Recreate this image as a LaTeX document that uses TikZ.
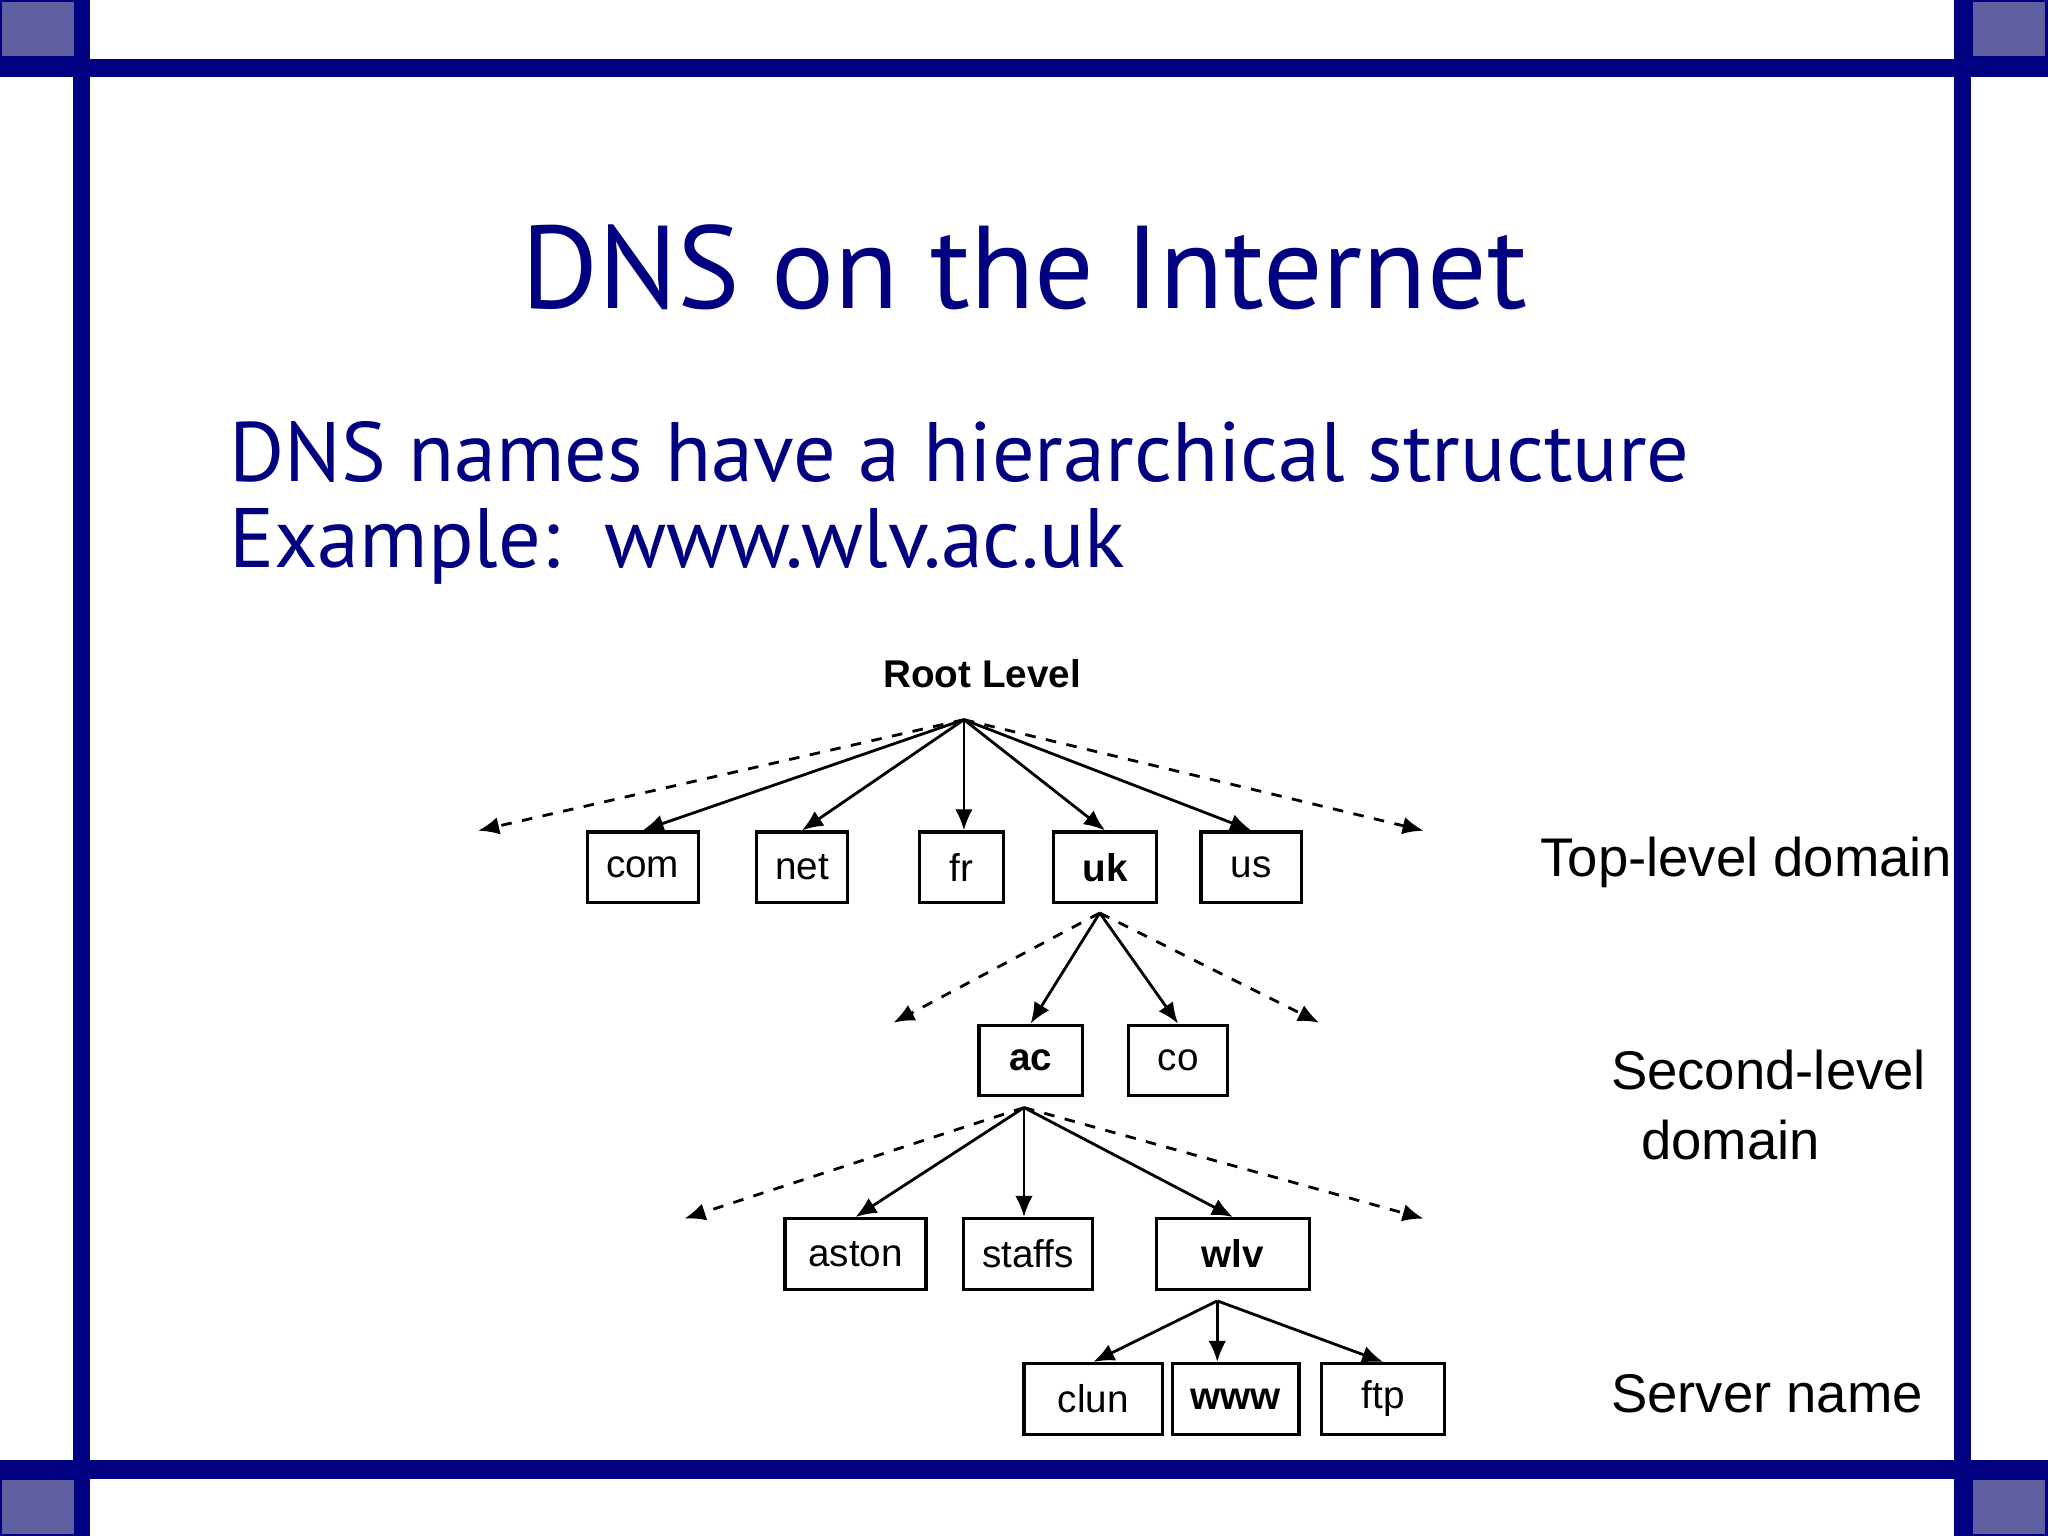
\documentclass[tikz,border=0pt]{standalone}
\usepackage{fontspec}
\setmainfont{Liberation Sans}
\newfontfamily\slidefont{PT Sans}
\usetikzlibrary{arrows.meta}
\definecolor{navy}{RGB}{0,0,128}
\definecolor{sq}{RGB}{96,96,160}
\def\u{0.013061cm}
\begin{document}
\begin{tikzpicture}[x=0.013061cm,y=-0.013061cm,
  box/.style={draw,line width=0.9pt,minimum height=54*\u,inner sep=0pt,font=\fontsize{11}{13}\selectfont},
  ar/.style={-{Latex[length=6pt,width=5pt]},line width=0.8pt},
  da/.style={ar,dashed},
  lab/.style={font=\fontsize{15.5}{18}\selectfont,anchor=west}]
\useasboundingbox (0,0) rectangle (1568,1176);
\fill[white] (0,0) rectangle (1568,1176);
% frame
\fill[navy] (0,45) rectangle (1568,59);
\fill[navy] (0,1118) rectangle (1568,1132);
\fill[navy] (56,0) rectangle (69,1176);
\fill[navy] (1496,0) rectangle (1509,1176);
\foreach \x/\y in {0/0,1509/0,0/1132,1509/1132}
  \filldraw[fill=sq,draw=navy,line width=1pt] (\x,\y) rectangle ++(58,44);
% texts
\node[text=navy,font=\slidefont\fontsize{33.5}{40}\selectfont] (title) at (784,205) {DNS on the Internet};
\node[text=navy,font=\slidefont\fontsize{24}{28}\selectfont,anchor=west] (l1) at (166,346) {DNS names have a hierarchical structure};
\node[text=navy,font=\slidefont\fontsize{24}{28}\selectfont,anchor=west] (l2) at (166,418) {Example:\ \ www.wlv.ac.uk};
\node[font=\bfseries\fontsize{11}{13}\selectfont] (root) at (752,516) {Root Level};
\coordinate (r) at (738,551);
\node[box,minimum width=85*\u] (com) at (492,664) {com};
\node[box,minimum width=70*\u] (net) at (614,664) {net};
\node[box,minimum width=64*\u] (fr) at (736,664) {fr};
\node[box,minimum width=79*\u,font=\bfseries\fontsize{11}{13}\selectfont] (uk) at (846,664) {uk};
\node[box,minimum width=77*\u] (us) at (958,664) {us};
\coordinate (d1) at (366,636); \coordinate (d2) at (1090,636);
\foreach \n in {com,net,uk,us} \draw[ar] (r) -- (\n.north);
\draw[ar] (r) -- (r|-fr.north);
\draw[da] (r) -- (d1); \draw[da] (r) -- (d2);
\coordinate (k) at (842,699);
\node[box,minimum width=79*\u,font=\bfseries\fontsize{11}{13}\selectfont] (ac) at (789,812) {ac};
\node[box,minimum width=76*\u] (co) at (902,812) {co};
\coordinate (e1) at (684,783); \coordinate (e2) at (1010,783);
\draw[ar] (k) -- (ac.north); \draw[ar] (k) -- (co.north);
\draw[da] (k) -- (e1); \draw[da] (k) -- (e2);
\coordinate (a) at (784,848);
\node[box,minimum width=108*\u] (aston) at (655,960) {aston};
\node[box,minimum width=99*\u] (staffs) at (787,960) {staffs};
\node[box,minimum width=117*\u,font=\bfseries\fontsize{11}{13}\selectfont] (wlv) at (944,960) {wlv};
\coordinate (f1) at (524,933); \coordinate (f2) at (1090,933);
\draw[ar] (a) -- (aston.north); \draw[ar] (a) -- (a|-staffs.north); \draw[ar] (a) -- (wlv.north);
\draw[da] (a) -- (f1); \draw[da] (a) -- (f2);
\coordinate (w) at (932,996);
\node[box,minimum width=106*\u] (clun) at (837,1071) {clun};
\node[box,minimum width=97*\u,font=\bfseries\fontsize{11}{13}\selectfont] (www) at (946,1071) {www};
\node[box,minimum width=94*\u] (ftp) at (1059,1071) {ftp};
\draw[ar] (w) -- (clun.north); \draw[ar] (w) -- (w|-www.north); \draw[ar] (w) -- (ftp.north);
\node[lab] (t1) at (1170,660) {Top-level domain};
\node[lab,align=left] (t2) at (1224,846) {Second-level\\[2pt]\ \ domain};
\node[lab] (t3) at (1224,1067) {Server name};
\end{tikzpicture}
\end{document}
